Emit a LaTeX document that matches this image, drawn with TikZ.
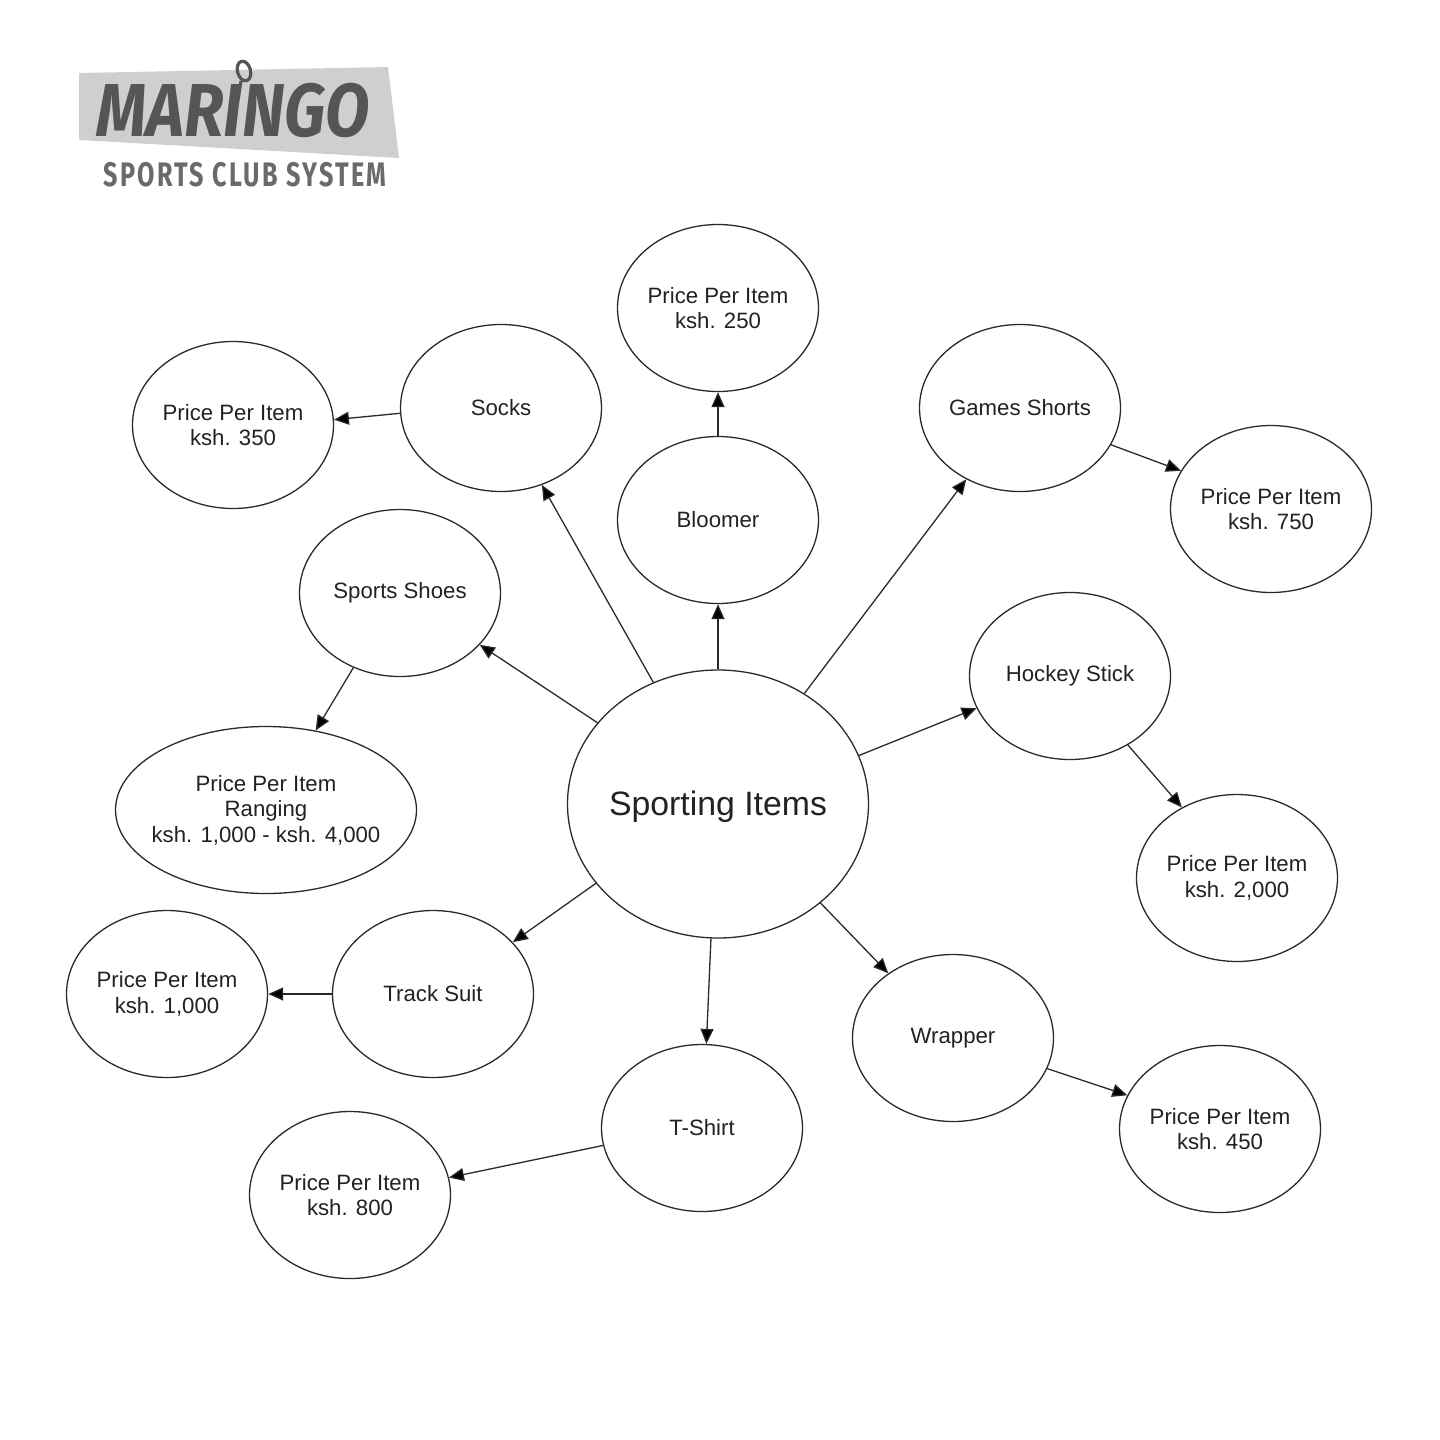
\documentclass[tikz,border=0pt]{standalone}
\usepackage{fontspec}
\setmainfont{Liberation Sans}
\newfontfamily\logofont{Fira Sans}
\usetikzlibrary{shapes.geometric,arrows.meta}
\tikzset{
  bub/.style={ellipse,draw=inkc,line width=0.65pt,fill=white,minimum width=100.5pt,minimum height=83.5pt,inner xsep=-6pt,inner ysep=0pt,align=center,text=textc,font=\fontsize{11.1}{12.75}\selectfont},
  hub/.style={bub,minimum width=150.5pt,minimum height=134pt,font=\fontsize{16.9}{20}\selectfont},
  wide/.style={bub,minimum width=150.5pt},
  link/.style={draw=inkc,line width=0.65pt,-{Triangle[length=7.5pt,width=6.5pt,fill=black]}}
}
\definecolor{inkc}{HTML}{2A2A2A}
\definecolor{textc}{HTML}{222222}
\definecolor{logobg}{HTML}{CFCFCF}
\definecolor{logodark}{HTML}{555555}
\definecolor{logosub}{HTML}{6A6A6A}
\begin{document}
\begin{tikzpicture}[x=0.5pt,y=-0.5pt]
\useasboundingbox (0,0) rectangle (1440,1440);
% logo
\fill[logobg] (79,73) -- (388,67) -- (399,158) -- (79,140) -- cycle;
\draw[logodark,line width=1.6pt,rotate around={15:(244,71)}] (244,71) ellipse (6.5 and 10);
\draw[logodark,line width=1.6pt] (241,81) -- (238,100);
\node[inner sep=0pt,text=logodark,xscale=1.08,yscale=1.25] (brand) at (233,111) {\logofont\fontsize{30}{30}\selectfont\bfseries\itshape MARINGO};
\node[inner sep=0pt,text=logosub,xscale=0.74] (sub) at (245,175) {\logofont\addfontfeature{LetterSpace=9}\fontsize{17}{17}\selectfont\bfseries SPORTS CLUB SYSTEM};
% nodes
\node[hub] (hub) at (718,804) {\rule{0pt}{15.2pt}Sporting Items};
\node[bub] (bloomer) at (718,520) {Bloomer};
\node[bub] (p250) at (718,308) {Price Per Item\\ksh. 250};
\node[bub] (socks) at (501,408) {Socks};
\node[bub] (p350) at (233,425) {Price Per Item\\ksh. 350};
\node[bub] (games) at (1020,408) {Games Shorts};
\node[bub] (p750) at (1271,509) {Price Per Item\\ksh. 750};
\node[bub] (shoes) at (400,593) {Sports Shoes};
\node[wide] (prange) at (266,810) {Price Per Item\\Ranging\\ksh. 1,000 - ksh. 4,000};
\node[bub] (hockey) at (1070,676) {Hockey Stick};
\node[bub] (p2000) at (1237,878) {Price Per Item\\ksh. 2,000};
\node[bub] (track) at (433,994) {Track Suit};
\node[bub] (p1000) at (167,994) {Price Per Item\\ksh. 1,000};
\node[bub] (tshirt) at (702,1128) {T-Shirt};
\node[bub] (p800) at (350,1195) {Price Per Item\\ksh. 800};
\node[bub] (wrapper) at (953,1038) {Wrapper};
\node[bub] (p450) at (1220,1129) {Price Per Item\\ksh. 450};
% connectors
\draw[link] (hub.90) -- (bloomer.270);
\draw[link] (bloomer.90) -- (p250.270);
\draw[link] (hub.118.8) -- (socks.-62.2);
\draw[link] (socks.183.4) -- (p350.3.5);
\draw[link] (hub.52.7) -- (games.233.1);
\draw[link] (games.-22.7) -- (p750.157.6);
\draw[link] (hub.146.2) -- (shoes.-33.4);
\draw[link] (shoes.238.5) -- (prange.58.2);
\draw[link] (hub.19.9) -- (hockey.199.7);
\draw[link] (hockey.-50.4) -- (p2000.128.8);
\draw[link] (hub.213.8) -- (track.33.4);
\draw[link] (track.180) -- (p1000.0);
\draw[link] (hub.267.4) -- (tshirt.87.2);
\draw[link] (tshirt.190.9) -- (p800.10.8);
\draw[link] (hub.-44.7) -- (wrapper.135);
\draw[link] (wrapper.-18.8) -- (p450.160.8);
\end{tikzpicture}
\end{document}
